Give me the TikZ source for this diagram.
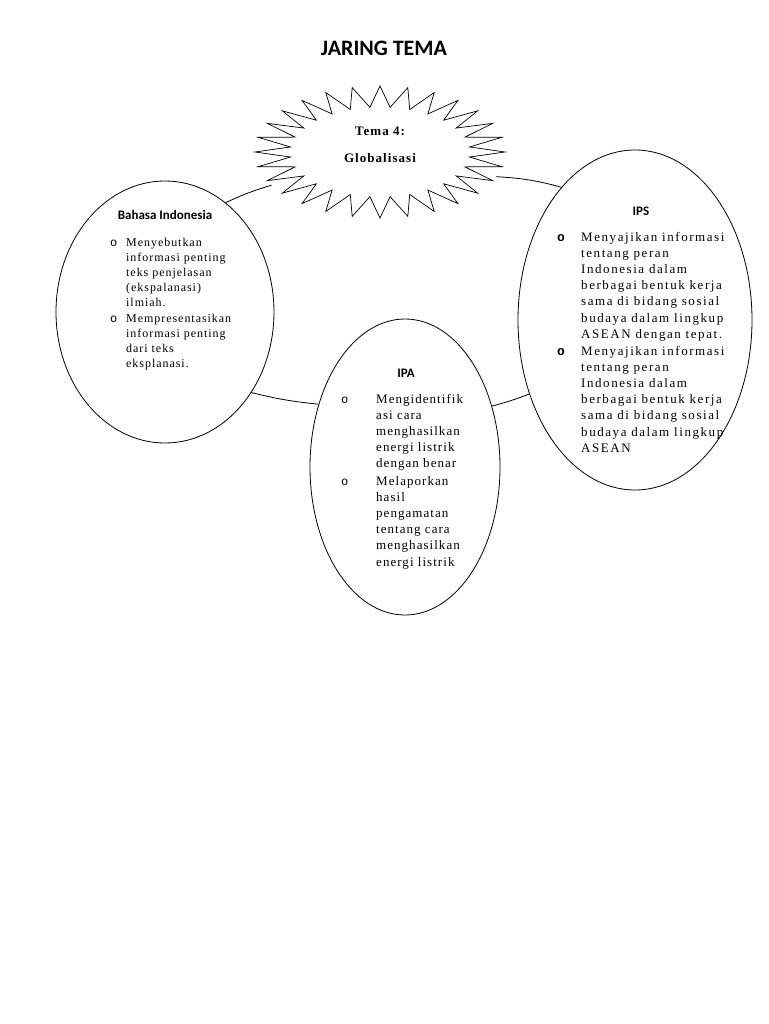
\documentclass[tikz,border=0pt]{standalone}
\usepackage{fontspec}
\setmainfont{Liberation Serif}
\newfontfamily\headfont{Carlito}
\newfontfamily\bodyfont[LetterSpace=8]{Liberation Serif}
\newfontfamily\ipsfont[LetterSpace=12]{Liberation Serif}
\newfontfamily\monofont{Liberation Mono}
\usetikzlibrary{shapes.geometric}
\tikzset{
  oval/.style={draw, ellipse, inner sep=0pt, line width=0.8pt},
  link/.style={line width=0.8pt},
  heading/.style={font=\headfont\bfseries\fontsize{13}{15}\selectfont, inner sep=0pt},
  body/.style={font=\bodyfont\fontsize{13}{16.2}\selectfont, align=left, inner sep=0pt, anchor=base west},
  ipsbody/.style={font=\ipsfont\fontsize{13}{16.2}\selectfont, align=left, inner sep=0pt, anchor=base west},
  smallbody/.style={font=\bodyfont\fontsize{12}{15}\selectfont, align=left, inner sep=0pt, anchor=base west},
  bullet/.style={font=\monofont\fontsize{12}{15}\selectfont, inner sep=0pt, anchor=base west},
  boldbullet/.style={font=\monofont\bfseries\fontsize{13}{16}\selectfont, inner sep=0pt, anchor=base west},
  starline/.style={line width=0.7pt, line join=miter}
}
\begin{document}
\begin{tikzpicture}[x=1pt,y=-1pt]
\path[use as bounding box, fill=white] (0,0) rectangle (768,1024);

% title
\node[font=\headfont\bfseries\fontsize{22}{26}\selectfont, inner sep=0pt] (title) at (384,48) {JARING TEMA};

% ovals
\node[oval, minimum width=218, minimum height=262] (bi) at (165,312) {};
\node[oval, minimum width=234, minimum height=340] (ips) at (635,320) {};
\node[oval, minimum width=190, minimum height=296] (ipa) at (405,467) {};

% starburst
\node[ellipse, minimum width=250, minimum height=132, inner sep=0pt] (star) at (380,152) {};
\draw[starline, fill=white] plot[samples at={0,...,55}, variable=\k]
  ({380+ifthenelse(mod(\k,2)==0,125,90)*cos(\k*(360/56))},
   {152+ifthenelse(mod(\k,2)==0,66,45)*sin(\k*(360/56))}) -- cycle;
\node[font=\bodyfont\bfseries\fontsize{13}{15}\selectfont, inner sep=0pt] (tema) at (380,131) {Tema 4:};
\node[font=\bodyfont\bfseries\fontsize{13}{15}\selectfont, inner sep=0pt] (glob) at (380,158) {Globalisasi};

% connectors
\draw[link] (bi.61) to[bend left=4] (star.197);
\draw[link] (star.348) to[bend left=6] (ips.119);
\draw[link] (bi.317) to[bend right=4] (ipa.144);
\draw[link] (ipa.35) to[bend right=3] (ips.215);

% Bahasa Indonesia (nodes placed by the baseline of their last line)
\node[heading] (bih) at (165,215) {Bahasa Indonesia};
\node[bullet] (bib1) at (110,246) {o};
\node[smallbody] (bit1) at (126,306) {Menyebutkan\\informasi penting\\teks penjelasan\\(ekspalanasi)\\ilmiah.};
\node[bullet] (bib2) at (110,322) {o};
\node[smallbody] (bit2) at (126,367) {Mempresentasikan\\informasi penting\\dari teks\\eksplanasi.};

% IPS
\node[heading] (ipsh) at (641,211) {IPS};
\node[boldbullet] (ipsb1) at (557,241) {o};
\node[ipsbody] (ipst1) at (581,338.2) {Menyajikan informasi\\tentang peran\\Indonesia dalam\\berbagai bentuk kerja\\sama di bidang sosial\\budaya dalam lingkup\\ASEAN dengan tepat.};
\node[boldbullet] (ipsb2) at (557,355) {o};
\node[ipsbody] (ipst2) at (581,452.2) {Menyajikan informasi\\tentang peran\\Indonesia dalam\\berbagai bentuk kerja\\sama di bidang sosial\\budaya dalam lingkup\\ASEAN};

% IPA
\node[heading] (ipah) at (406,373) {IPA};
\node[bullet] (ipab1) at (341,403) {o};
\node[body] (ipat1) at (376,467.8) {Mengidentifik\\asi cara\\menghasilkan\\energi listrik\\dengan benar};
\node[bullet] (ipab2) at (341,485) {o};
\node[body] (ipat2) at (376,566) {Melaporkan\\hasil\\pengamatan\\tentang cara\\menghasilkan\\energi listrik};
\end{tikzpicture}
\end{document}
